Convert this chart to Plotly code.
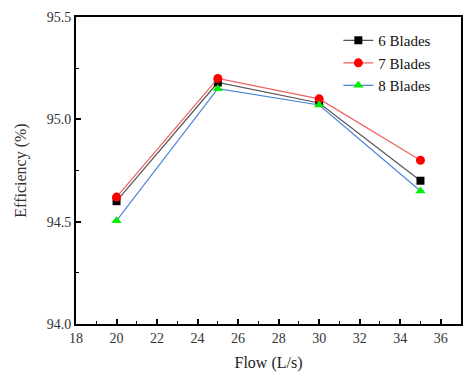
import plotly.graph_objects as go

flow = [20, 25, 30, 35]
eff_6 = [94.60, 95.18, 95.08, 94.70]
eff_7 = [94.62, 95.20, 95.10, 94.80]
eff_8 = [94.505, 95.15, 95.07, 94.65]
names = ["6 Blades", "7 Blades", "8 Blades"]

fig = go.Figure()
fig.add_trace(go.Scatter(x=flow, y=eff_6, name=names[0], mode="lines+markers",
                         line=dict(color="#555555", width=1.2),
                         marker=dict(symbol="square", color="black", size=8)))
fig.add_trace(go.Scatter(x=flow, y=eff_7, name=names[1], mode="lines+markers",
                         line=dict(color="#f06060", width=1.2),
                         marker=dict(symbol="circle", color="#ff0000", size=9)))
fig.add_trace(go.Scatter(x=flow, y=eff_8, name=names[2], mode="lines+markers",
                         line=dict(color="#4a86d8", width=1.2),
                         marker=dict(symbol="triangle-up", color="#00ee00", size=9)))

font = "'Liberation Serif', 'Times New Roman', serif"
fig.update_layout(
    width=466, height=374,
    margin=dict(l=68, r=13, t=9, b=58),
    paper_bgcolor="white", plot_bgcolor="white",
    font=dict(family=font, size=14, color="#222222"),
    legend=dict(x=0.936, y=0.977, xanchor="right", yanchor="top",
                font=dict(family=font, size=15, color="#111111"),
                bgcolor="rgba(0,0,0,0)", tracegroupgap=0, itemwidth=30),
    showlegend=True,
)
fig.update_xaxes(range=[18, 37], dtick=2, tick0=18, showgrid=False, zeroline=False, automargin=False,
                 showline=True, linecolor="black", linewidth=2, mirror=True,
                 ticks="inside", ticklen=5, tickwidth=1.5, tickcolor="black",
                 minor=dict(ticks="inside", ticklen=3, dtick=1, tickcolor="black", tickwidth=1.2),
                 title=dict(text="Flow (L/s)", font=dict(family=font, size=16, color="#222222"), standoff=12),
                 tickfont=dict(family=font, size=14, color="#333333"))
fig.update_yaxes(range=[94.0, 95.5], dtick=0.5, tick0=94.0, tickformat=".1f", showgrid=False, zeroline=False,
                 automargin=False,
                 showline=True, linecolor="black", linewidth=2, mirror=True,
                 ticks="inside", ticklen=5, tickwidth=1.5, tickcolor="black",
                 minor=dict(ticks="inside", ticklen=3, dtick=0.25, tickcolor="black", tickwidth=1.2),
                 title=dict(text="Efficiency (%)", font=dict(family=font, size=16, color="#333333"), standoff=16),
                 tickfont=dict(family=font, size=14, color="#333333"))

fig.write_html("out.html")
